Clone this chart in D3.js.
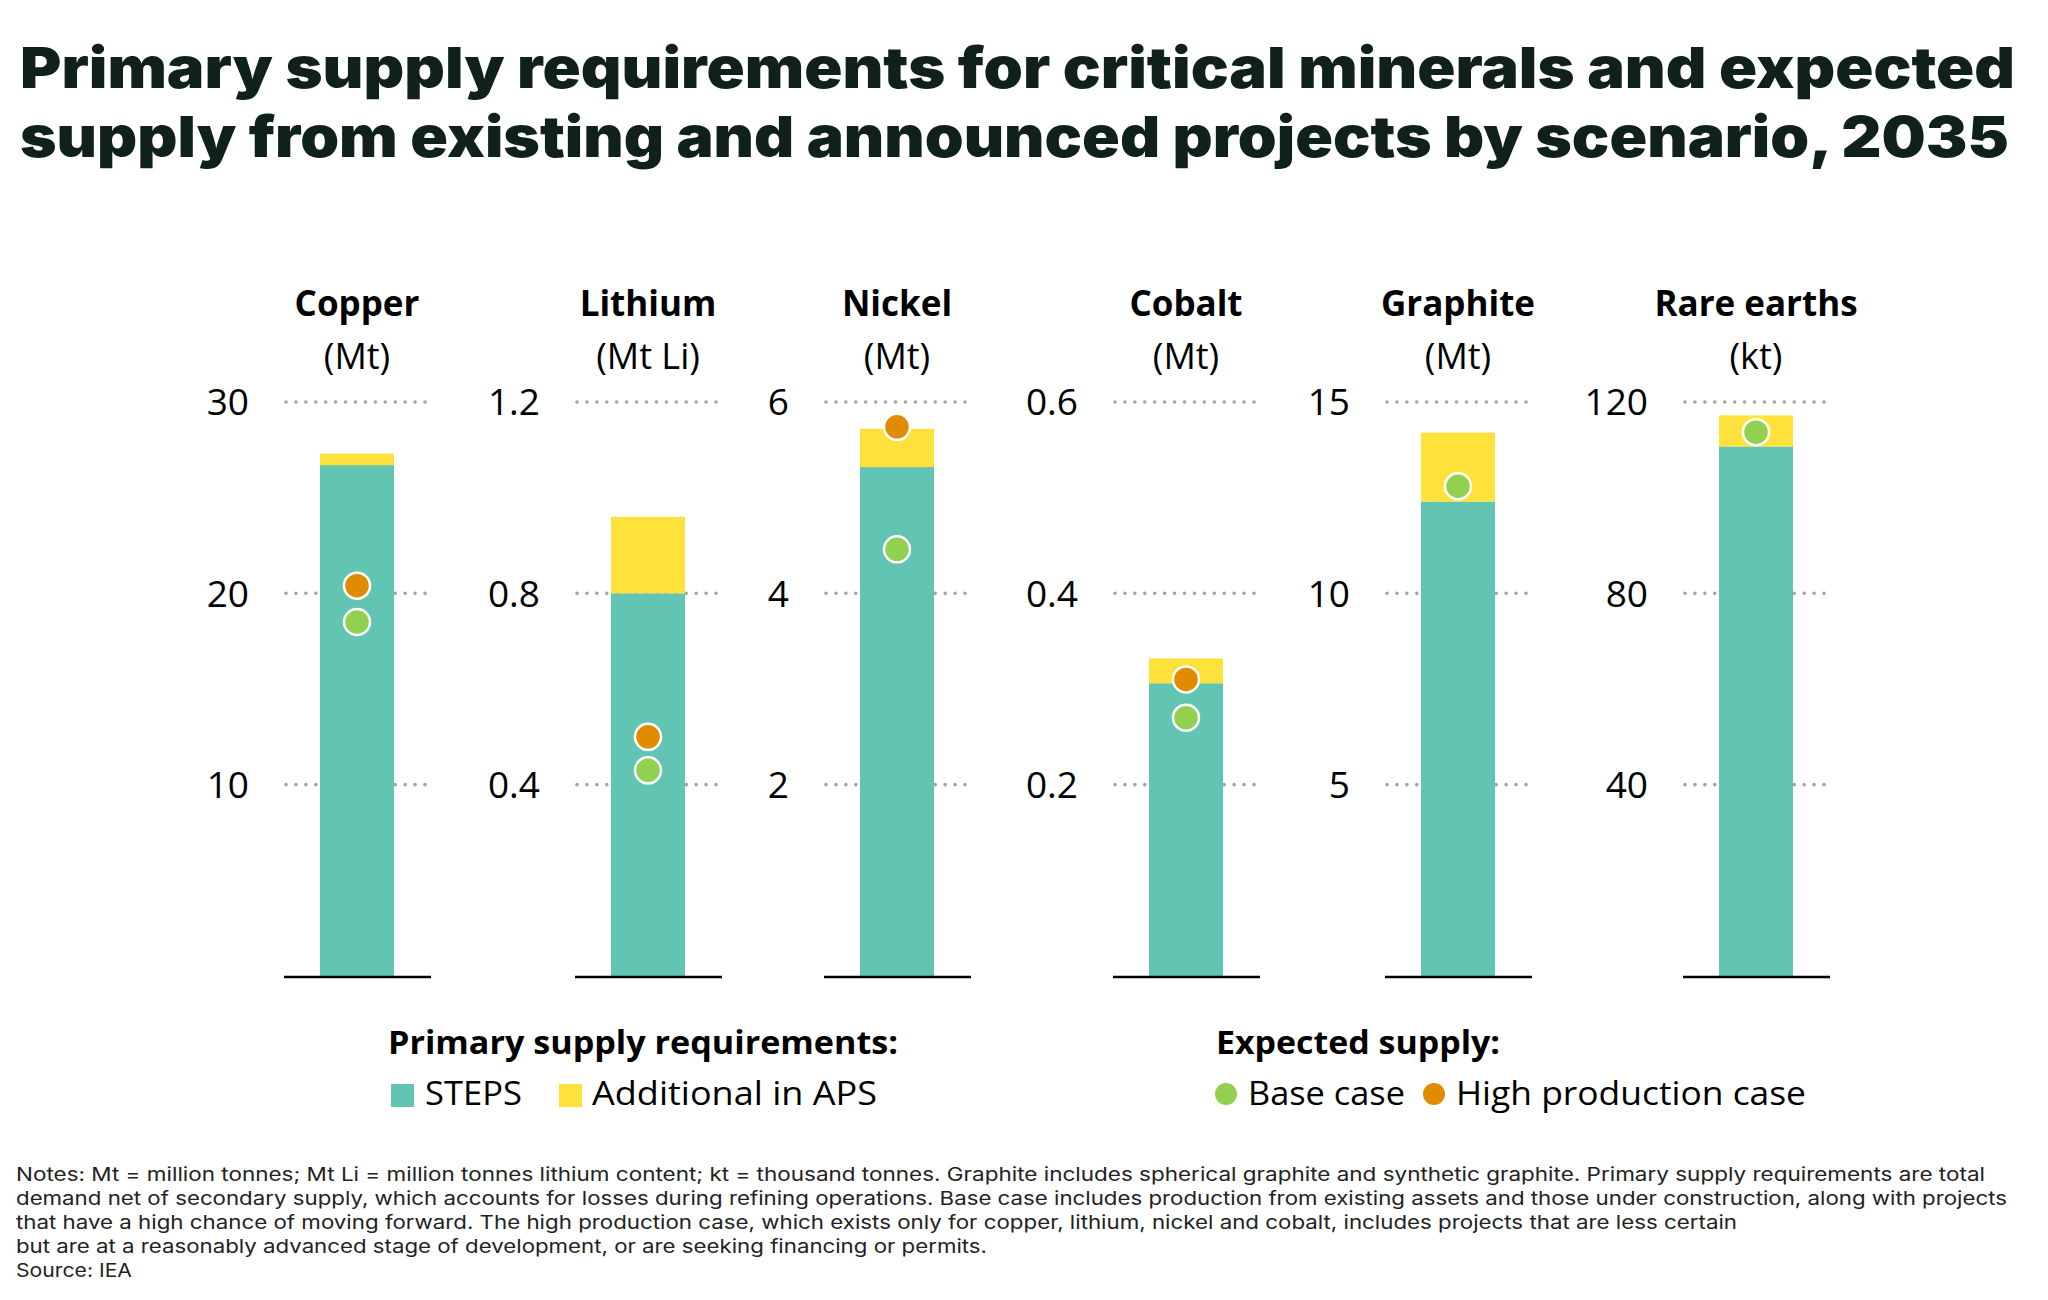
<!DOCTYPE html>
<html>
<head>
<meta charset="utf-8">
<script src="https://d3js.org/d3.v7.min.js"></script>
<style>
    body { margin: 0; background: #fff; }
    svg { display: block; }
</style>
</head>
<body>
<svg id="chart" width="2048" height="1300"></svg>
<script>
    // data (2035)
    var minerals = ["Copper", "Lithium", "Nickel", "Cobalt", "Graphite", "Rare earths"];
    var units = ["(Mt)", "(Mt Li)", "(Mt)", "(Mt)", "(Mt)", "(kt)"];
    var axisMax = [30, 1.2, 6, 0.6, 15, 120];
    var tickValues = [[10, 20, 30], [0.4, 0.8, 1.2], [2, 4, 6], [0.2, 0.4, 0.6], [5, 10, 15], [40, 80, 120]];
    var steps = [26.7, 0.80, 5.32, 0.306, 12.4, 110.7];
    var apsExtra = [0.6, 0.16, 0.40, 0.026, 1.8, 6.5];
    var baseCase = [18.5, 0.43, 4.46, 0.27, 12.8, 113.7];
    var highCase = [20.4, 0.50, 5.74, 0.31, null, null];

    var teal = "#62c4b2", yellow = "#ffe13b", green = "#92d050", orange = "#e08b00";

    // layout
    var panelCenters = [357, 648, 897, 1186, 1458, 1756];
    var xPanel = d3.scaleOrdinal().domain(minerals).range(panelCenters);
    var y0 = 976, yTop = 402;
    var barW = 74, gridHalf = 71;

    var svg = d3.select("#chart");

    // title
    var titleLines = [
        "Primary supply requirements for critical minerals and expected",
        "supply from existing and announced projects by scenario, 2035"
    ];
    var titleLen = [1995, 1989];
    svg.selectAll(".title").data(titleLines).enter().append("text")
        .attr("class", "title")
        .attr("x", 20)
        .attr("y", function (d, i) { return 88 + i * 69; })
        .attr("textLength", function (d, i) { return titleLen[i]; })
        .attr("lengthAdjust", "spacingAndGlyphs")
        .style("font-family", "Inter, Lato, sans-serif")
        .style("font-weight", 900)
        .style("font-size", "57px")
        .style("fill", "#10201d")
        .text(function (d) { return d; });

    // panels
    minerals.forEach(function (m, i) {
        var cx = xPanel(m);
        var y = d3.scaleLinear().domain([0, axisMax[i]]).range([y0, yTop]);
        var g = svg.append("g");

        g.append("text")
            .attr("x", cx).attr("y", 316)
            .attr("text-anchor", "middle")
            .style("font-family", "'Open Sans', sans-serif")
            .style("font-weight", 700)
            .style("font-size", "35px")
            .style("fill", "#000")
            .text(m);
        g.append("text")
            .attr("x", cx).attr("y", 369)
            .attr("text-anchor", "middle")
            .style("font-family", "'Open Sans', sans-serif")
            .style("font-size", "36px")
            .style("fill", "#000")
            .text(units[i]);

        // dotted gridlines
        g.selectAll(".grid").data(tickValues[i]).enter().append("line")
            .attr("x1", cx - gridHalf).attr("x2", cx + gridHalf)
            .attr("y1", function (d) { return y(d); })
            .attr("y2", function (d) { return y(d); })
            .attr("stroke", "#a3a3a3")
            .attr("stroke-width", 3.6)
            .attr("stroke-linecap", "round")
            .attr("stroke-dasharray", "0,9.93");

        // tick labels
        g.selectAll(".tick").data(tickValues[i]).enter().append("text")
            .attr("x", cx - gridHalf - 37)
            .attr("y", function (d) { return y(d); })
            .attr("dy", "0.36em")
            .attr("text-anchor", "end")
            .style("font-family", "'Open Sans', sans-serif")
            .style("font-size", "37px")
            .style("fill", "#000")
            .text(function (d) { return d3.format("~g")(d); });

        // stacked bar
        g.append("rect")
            .attr("x", cx - barW / 2)
            .attr("y", y(steps[i]))
            .attr("width", barW)
            .attr("height", y(0) - y(steps[i]))
            .attr("fill", teal);
        g.append("rect")
            .attr("x", cx - barW / 2)
            .attr("y", y(steps[i] + apsExtra[i]))
            .attr("width", barW)
            .attr("height", y(steps[i]) - y(steps[i] + apsExtra[i]))
            .attr("fill", yellow);

        // baseline
        g.append("line")
            .attr("x1", cx - gridHalf - 2).attr("x2", cx + gridHalf + 3)
            .attr("y1", y(0) + 1).attr("y2", y(0) + 1)
            .attr("stroke", "#000")
            .attr("stroke-width", 2.6);

        // expected supply dots
        var pts = [{ v: baseCase[i], c: green }, { v: highCase[i], c: orange }];
        g.selectAll(".dot").data(pts.filter(function (p) { return p.v != null; }))
            .enter().append("circle")
            .attr("cx", cx)
            .attr("cy", function (p) { return y(p.v); })
            .attr("r", 13)
            .attr("fill", function (p) { return p.c; })
            .attr("stroke", "#fff")
            .attr("stroke-width", 2.5);
    });

    // legend
    var legendFont = "'Open Sans', sans-serif";
    function legendText(x, yy, txt, w, bold) {
        svg.append("text")
            .attr("x", x).attr("y", yy)
            .attr("textLength", w)
            .attr("lengthAdjust", "spacingAndGlyphs")
            .style("font-family", legendFont)
            .style("font-weight", bold ? 700 : 400)
            .style("font-size", "33px")
            .style("fill", "#000")
            .text(txt);
    }
    legendText(388, 1054, "Primary supply requirements:", 510, true);
    legendText(1216, 1054, "Expected supply:", 284, true);

    svg.append("rect").attr("x", 391).attr("y", 1084).attr("width", 23).attr("height", 23).attr("fill", teal);
    legendText(425, 1105, "STEPS", 97, false);
    svg.append("rect").attr("x", 559).attr("y", 1084).attr("width", 23).attr("height", 23).attr("fill", yellow);
    legendText(592, 1105, "Additional in APS", 285, false);

    svg.append("circle").attr("cx", 1226).attr("cy", 1094).attr("r", 11).attr("fill", green);
    legendText(1248, 1105, "Base case", 157, false);
    svg.append("circle").attr("cx", 1434).attr("cy", 1094).attr("r", 11).attr("fill", orange);
    legendText(1456, 1105, "High production case", 350, false);

    // notes
    var notes = [
        "Notes: Mt = million tonnes; Mt Li = million tonnes lithium content; kt = thousand tonnes. Graphite includes spherical graphite and synthetic graphite. Primary supply requirements are total",
        "demand net of secondary supply, which accounts for losses during refining operations. Base case includes production from existing assets and those under construction, along with projects",
        "that have a high chance of moving forward. The high production case, which exists only for copper, lithium, nickel and cobalt, includes projects that are less certain",
        "but are at a reasonably advanced stage of development, or are seeking financing or permits.",
        "Source: IEA"
    ];
    var notesLen = [1969, 1991, 1721, 971, 116];
    svg.selectAll(".note").data(notes).enter().append("text")
        .attr("x", 16)
        .attr("y", function (d, i) { return 1181 + i * 24; })
        .attr("textLength", function (d, i) { return notesLen[i]; })
        .attr("lengthAdjust", "spacingAndGlyphs")
        .style("font-family", "Inter, 'Open Sans', sans-serif")
        .style("font-size", "18.5px")
        .style("fill", "#222")
        .text(function (d) { return d; });
</script>
</body>
</html>
